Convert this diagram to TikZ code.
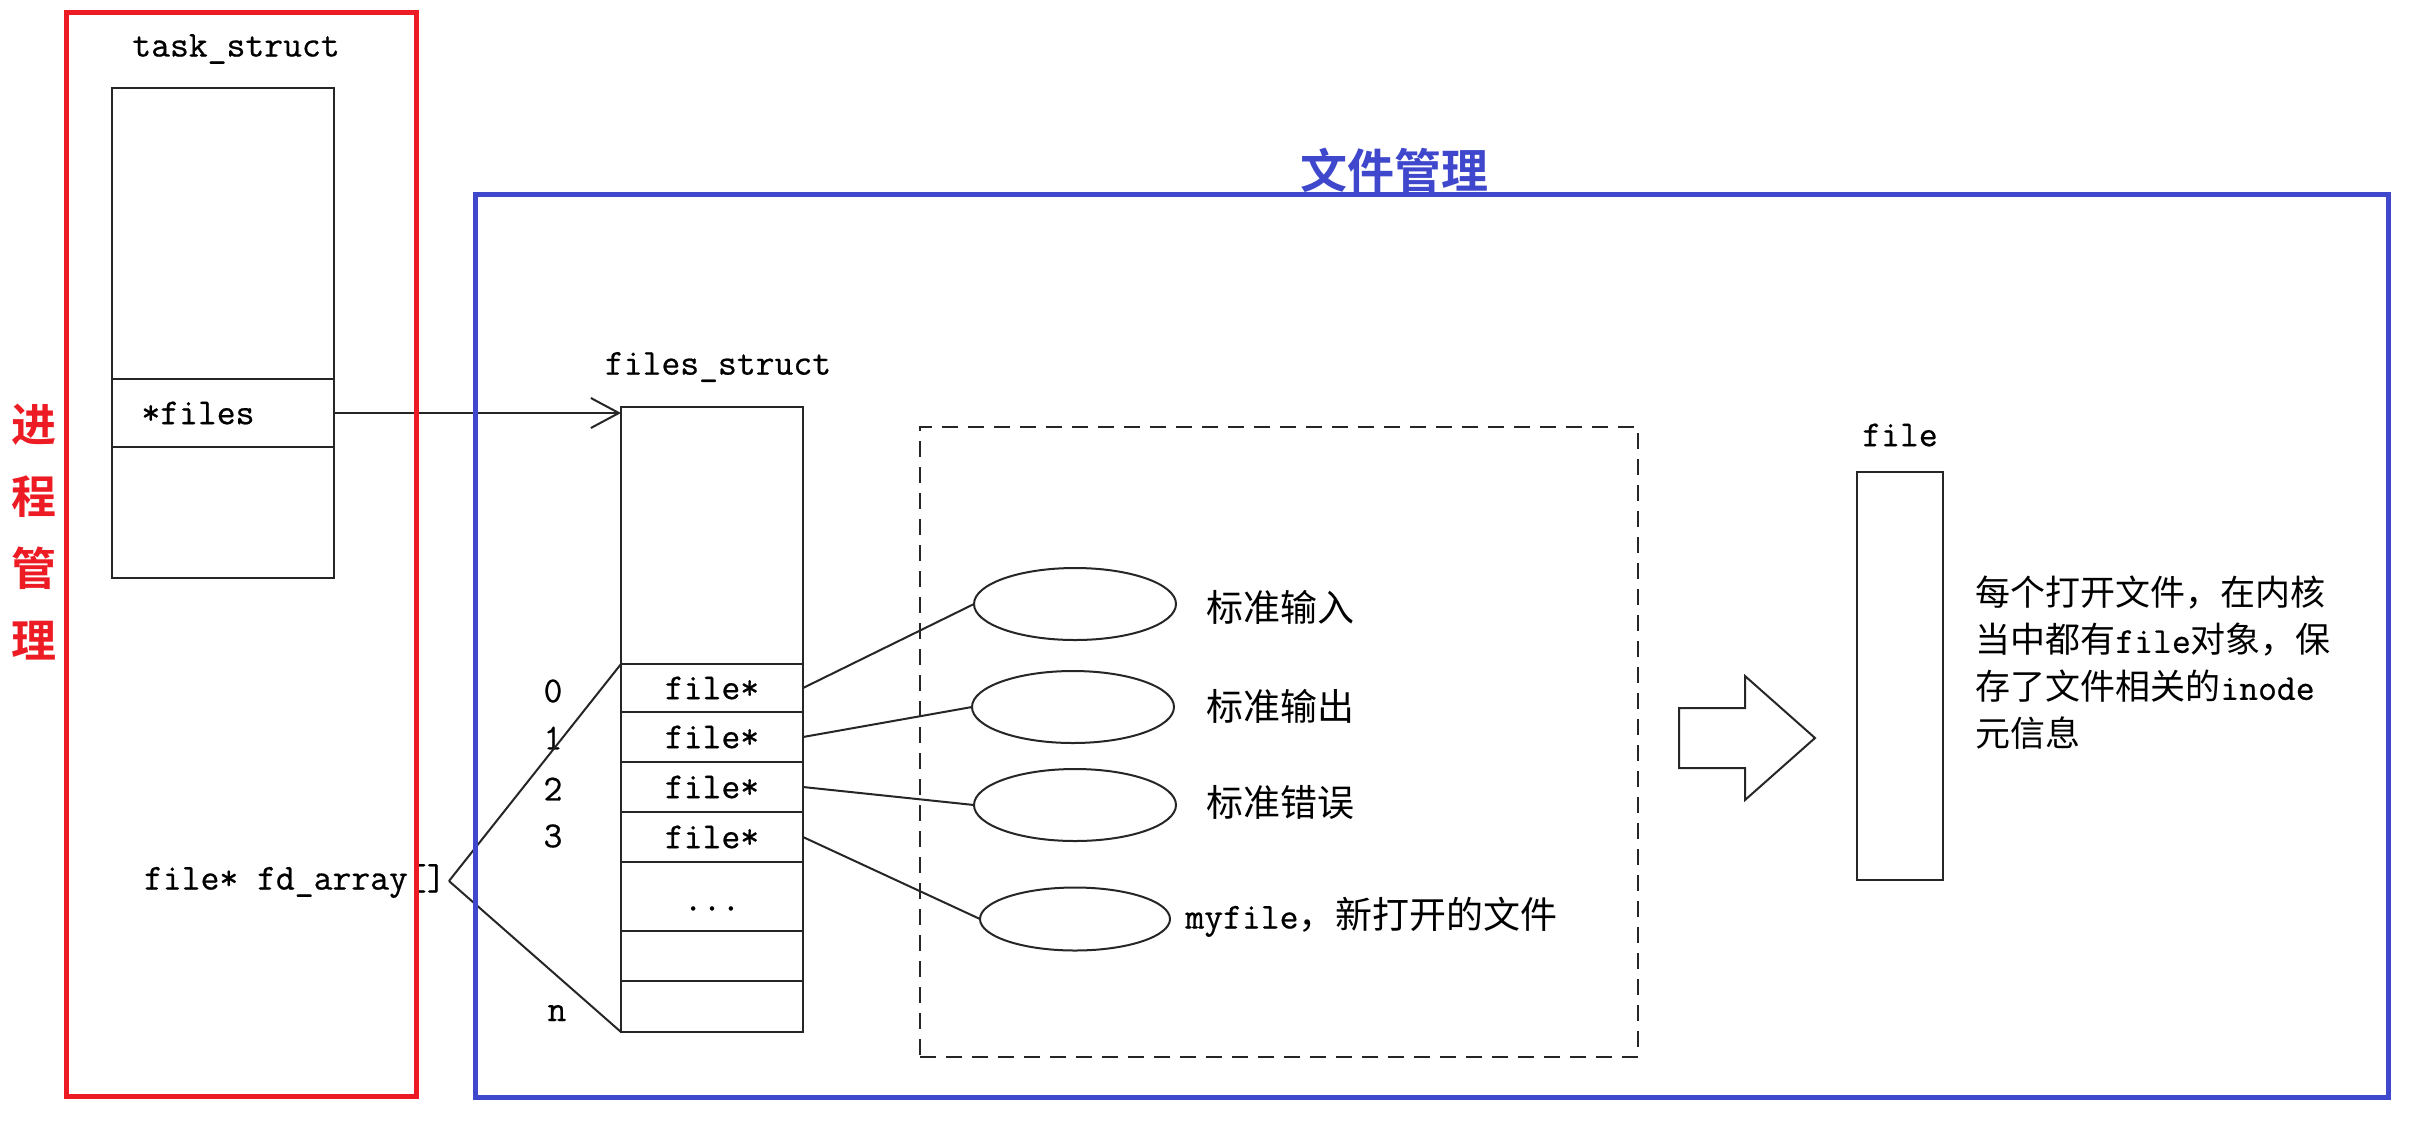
\documentclass[tikz,border=0pt]{standalone}
\usepackage{fontspec}
\usetikzlibrary{arrows.meta,shapes.geometric,calc}
\newfontfamily\cjk{Noto Sans CJK SC}[BoldFont={Noto Sans CJK SC Bold}]
\newfontfamily\monofam{Latin Modern Mono}[FakeBold=0.6]
\definecolor{pred}{RGB}{237,28,36}
\definecolor{pblue}{RGB}{63,72,204}
\newcommand\monof{\fontsize{18.3}{20}\selectfont\monofam}
\newcommand\cjkf{\fontsize{18.5}{22}\selectfont\cjk}
\tikzset{
  box/.style={draw=black!85, line width=1pt, rectangle, inner sep=0pt, outer sep=0pt},
  mono/.style={font=\monof, inner sep=0pt},
  cjktext/.style={font=\cjkf, inner sep=0pt},
  thinline/.style={draw=black!85, line width=1pt},
  oval/.style={ellipse, draw=black!85, line width=1pt, inner sep=0pt, outer sep=0pt},
  frame/.style={line width=2.5pt, rectangle, inner sep=0pt, outer sep=0pt},
}
\begin{document}
\begin{tikzpicture}[x=0.5pt,y=-0.5pt]
\useasboundingbox (0,0) rectangle (2416,1132);
\fill[white] (0,0) rectangle (2416,1132);

% task_struct
\node[mono] (tsl) at (236,49) {task\_struct};
\node[box, minimum width=111pt, minimum height=245pt] (ts) at (223,333) {};
\node[box, minimum width=111pt, minimum height=34pt] (tsf) at (223,413) {};
\node[mono, anchor=west] (tsft) at (141,413) {*files};
\node[mono, anchor=east] (fd) at (446,881) {file* fd\_array[]};

% files_struct
\node[mono] (fsl) at (718,367) {files\_struct};
\node[box, minimum width=91pt, minimum height=312.5pt] (fs) at (712,719.5) {};
\node[box, mono, minimum width=91pt, minimum height=24pt] (r0) at (712,688) {file*};
\node[box, mono, minimum width=91pt, minimum height=25pt] (r1) at (712,737) {file*};
\node[box, mono, minimum width=91pt, minimum height=25pt] (r2) at (712,787) {file*};
\node[box, mono, minimum width=91pt, minimum height=25pt] (r3) at (712,837) {file*};
\node[box, mono, minimum width=91pt, minimum height=34.5pt] (rd) at (712,896.5) {\raisebox{-7pt}[0pt][0pt]{...}};
\node[box, minimum width=91pt, minimum height=25pt] (re) at (712,956) {};
\node[box, minimum width=91pt, minimum height=25.5pt] (rn) at (712,1006.5) {};

\node[mono] (i0) at (553,691) {0};
\node[mono] (i1) at (553,738) {1};
\node[mono] (i2) at (553,789) {2};
\node[mono] (i3) at (553,836) {3};
\node[mono] (in) at (557,1013) {n};

% dashed region with ellipses
\node[draw=black!85, line width=1pt, dash pattern=on 8pt off 5pt, rectangle, minimum width=359pt, minimum height=315pt, inner sep=0pt] (dbox) at (1279,742) {};
\node[oval, minimum width=101pt, minimum height=36pt] (e1) at (1075,604) {};
\node[oval, minimum width=101pt, minimum height=36pt] (e2) at (1073,707) {};
\node[oval, minimum width=101pt, minimum height=36pt] (e3) at (1075,805) {};
\node[oval, minimum width=95pt, minimum height=31.5pt] (e4) at (1075,919) {};
\node[cjktext, anchor=west] (l1) at (1206,607) {标准输入};
\node[cjktext, anchor=west] (l2) at (1206,706) {标准输出};
\node[cjktext, anchor=west] (l3) at (1206,802) {标准错误};
\node[inner sep=0pt, anchor=west] (l4) at (1185,917) {{\monof myfile}{\cjkf ，新打开的文件}};

% connectors
\draw[thinline, -{Straight Barb[length=14pt,width=15pt]}] (tsf.east) -- (tsf.east -| fs.west);
\draw[thinline] ($(fd.east)+(3,0)$) -- (r0.north west);
\draw[thinline] ($(fd.east)+(3,0)$) -- (rn.south west);
\draw[thinline] (r0.east) -- (e1.west);
\draw[thinline] (r1.east) -- (e2.west);
\draw[thinline] (r2.east) -- (e3.west);
\draw[thinline] (r3.east) -- (e4.west);

% big hollow arrow
\draw[thinline, fill=white] (1679,708) -- (1745,708) -- (1745,676) -- (1815,738) -- (1745,800) -- (1745,768) -- (1679,768) -- cycle;

% file object
\node[mono] (fl) at (1900,435) {file};
\node[box, minimum width=43pt, minimum height=204pt] (fb) at (1900,676) {};
\node[anchor=west, align=left, inner sep=0pt, font=\fontsize{17.5}{23.5}\selectfont\cjk] (desc) at (1975,663)
  {每个打开文件，在内核\\当中都有{\monof file}对象，保\\存了文件相关的{\monof inode}\\元信息};

% frames and titles
\node[frame, draw=pred, minimum width=175pt, minimum height=542pt] (pm) at (241,554) {};
\node[frame, draw=pblue, minimum width=956.5pt, minimum height=451.5pt] (fm) at (1431.5,645.5) {};
\node[font=\fontsize{23.5}{28}\selectfont\cjk\bfseries, text=pblue, inner sep=0pt] (title) at (1394,170) {文件管理};
\node[font=\fontsize{22.5}{36}\selectfont\cjk\bfseries, text=pred, align=center, inner sep=0pt] (proc) at (34,532) {进\\程\\管\\理};
\end{tikzpicture}
\end{document}
